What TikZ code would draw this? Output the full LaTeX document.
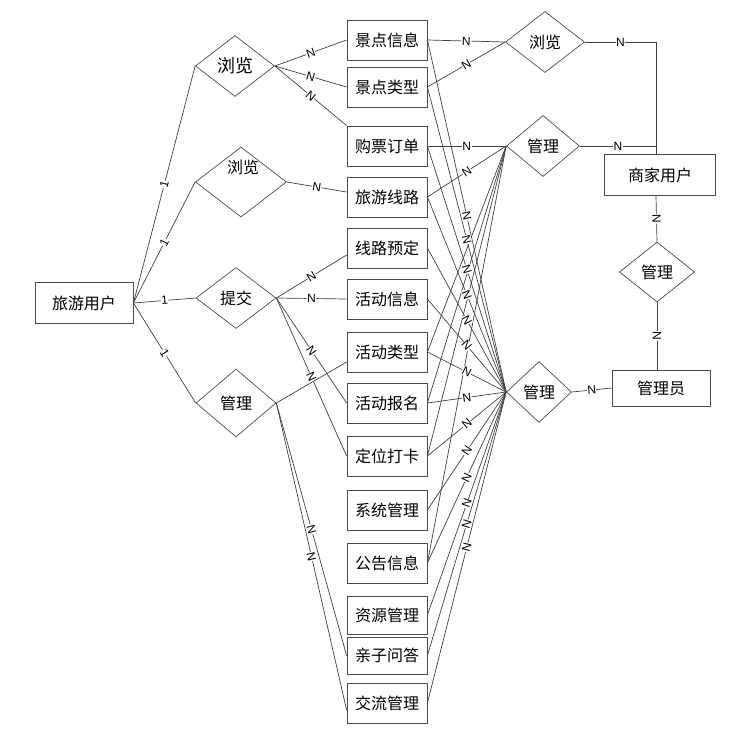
\documentclass[tikz,border=0pt]{standalone}
\usepackage{fontspec}
\setmainfont{Noto Sans CJK SC}
\setsansfont{Liberation Sans}
\usetikzlibrary{shapes.geometric}

\begin{document}
\begin{tikzpicture}[x=1pt,y=-1pt,
  ent/.style={draw=black!70,line width=0.8pt,minimum width=80pt,minimum height=40pt,inner sep=0pt,font=\fontsize{16}{18}\selectfont},
  rel/.style={draw=black!70,line width=0.7pt,shape=diamond,inner sep=0pt,font=\fontsize{16}{18}\selectfont},
  ln/.style={draw=black!75,line width=0.7pt},
  lab/.style={sloped,fill=white,inner sep=0.4pt,font=\sffamily\fontsize{12}{12}\selectfont}]
  \useasboundingbox (0,0) rectangle (733,734);
  % entities
  \node[ent,minimum width=98pt,minimum height=41pt] (yhu) at (84,303) {旅游用户};
  \node[ent] (jdxx) at (387,40) {景点信息};
  \node[ent] (jdlx) at (387,87) {景点类型};
  \node[ent] (gpdd) at (387,146) {购票订单};
  \node[ent] (lyxl) at (387,197) {旅游线路};
  \node[ent] (xlyd) at (387,248) {线路预定};
  \node[ent] (hdxx) at (387,299) {活动信息};
  \node[ent] (hdlx) at (387,352) {活动类型};
  \node[ent] (hdbm) at (387,403) {活动报名};
  \node[ent] (dwdk) at (387,456) {定位打卡};
  \node[ent] (xtgl) at (387,510) {系统管理};
  \node[ent] (ggxx) at (387,563) {公告信息};
  \node[ent,minimum height=38pt] (zygl) at (387,615) {资源管理};
  \node[ent,minimum height=37pt] (qzwd) at (387,655.5) {亲子问答};
  \node[ent] (jlgl) at (387,703) {交流管理};
  \node[ent,minimum width=111pt,minimum height=41pt] (sjyh) at (660,175) {商家用户};
  \node[ent,minimum width=98pt,minimum height=36pt] (gly) at (661,388) {管理员};
  % relations
  \node[rel,minimum width=79pt,minimum height=61pt,font=\fontsize{18}{20}\selectfont] (ll1) at (235,66) {浏览};
  \node[rel,minimum width=91pt,minimum height=70pt] (ll2) at (241,182) {};
  \node[font=\fontsize{16}{18}\selectfont] (ll2t) at (243,167) {浏览};
  \node[rel,minimum width=80pt,minimum height=61pt] (tj) at (236,298) {提交};
  \node[rel,minimum width=80pt,minimum height=68pt] (glL) at (236,403) {管理};
  \node[rel,minimum width=79pt,minimum height=61pt] (llR) at (545,42) {浏览};
  \node[rel,minimum width=73pt,minimum height=61pt] (glT) at (543,146) {管理};
  \node[rel,minimum width=75pt,minimum height=60pt] (glM) at (657,272) {管理};
  \node[rel,minimum width=65pt,minimum height=61pt] (glB) at (539,392) {管理};
  \coordinate (jn) at (656,155);

  % tourist side
  \foreach \r in {ll1,ll2,tj,glL}
    \draw[ln] (yhu.east) -- node[lab]{1} (\r.west);
  \draw[ln] (ll1.east) -- node[lab]{N} (jdxx.west);
  \draw[ln] (ll1.east) -- node[lab]{N} (jdlx.west);
  \draw[ln] (ll1.east) -- node[lab]{N} (gpdd.north west);
  \draw[ln] (ll2.east) -- node[lab]{N} ([yshift=5pt]lyxl.west);
  \draw[ln] (tj.east) -- node[lab]{N} ([yshift=-7pt]xlyd.west);
  \draw[ln] (tj.east) -- node[lab]{N} (hdxx.west);
  \draw[ln] (tj.east) -- node[lab]{N} (hdbm.west);
  \draw[ln] (tj.east) -- node[lab]{N} (dwdk.west);
  \draw[ln] (glL.east) -- ([yshift=-10pt]hdlx.west);
  \draw[ln] (glL.east) -- node[lab]{N} (qzwd.west);
  \draw[ln] (glL.east) -- node[lab]{N} ([yshift=-7pt]jlgl.west);

  % merchant side
  \draw[ln] (jdxx.east) -- node[lab]{N} (llR.west);
  \draw[ln] (jdlx.east) -- node[lab]{N} (llR.west);
  \draw[ln] (gpdd.east) -- node[lab]{N} (glT.west);
  \draw[ln] (lyxl.east) -- node[lab]{N} (glT.west);
  \foreach \b in {hdlx,hdbm,dwdk,ggxx}
    \draw[ln] (\b.east) -- (glT.west);
  \draw[ln] (llR.east) -- node[lab]{N} (jn |- llR.east) -- (jn);
  \draw[ln] (glT.east) -- node[lab]{N} (jn |- glT.east);

  % admin side
  \foreach \b in {jdxx,jdlx,gpdd,lyxl,xlyd,hdxx,hdlx,hdbm,dwdk,xtgl,ggxx,zygl,qzwd,jlgl}
    \draw[ln] (\b.east) -- node[lab]{N} (glB.west);
  \draw[ln] (jn |- sjyh.south) -- node[lab]{N} (glM.north);
  \draw[ln] (glM.south) -- node[lab]{N} (glM.south |- gly.north);
  \draw[ln] (glB.east) -- node[lab]{N} (gly.west);
\end{tikzpicture}
\end{document}
